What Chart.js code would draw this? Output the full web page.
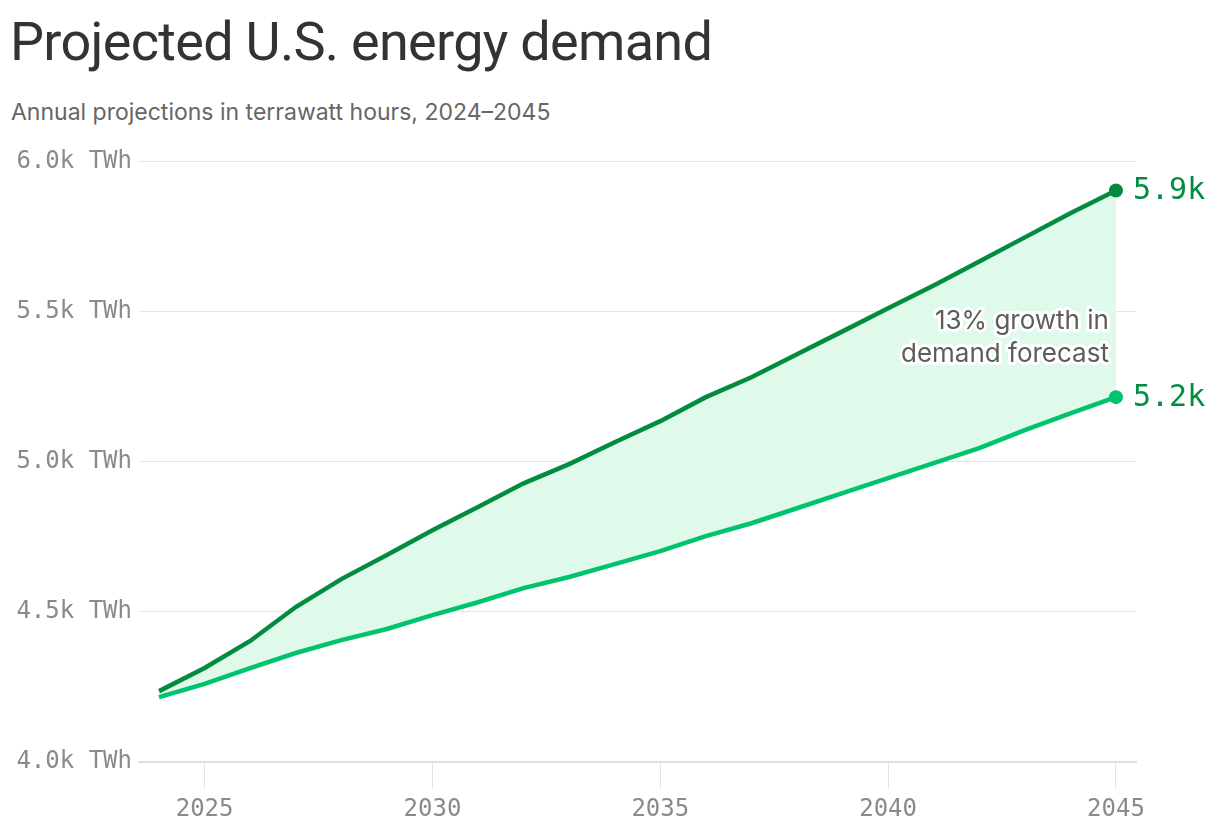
<!DOCTYPE html>
<html>
<head>
<meta charset="utf-8">
<script src="https://cdn.jsdelivr.net/npm/chart.js@4/dist/chart.umd.min.js"></script>
<style>
    html, body { margin: 0; padding: 0; background: #fff; }
    body { width: 1220px; height: 830px; position: relative; overflow: hidden; font-family: Roboto, "Noto Sans", sans-serif; }
    h1 { position: absolute; left: 10px; top: 10px; margin: 0; font-size: 54px; font-weight: 400; color: #333; letter-spacing: -0.7px; }
    .sub { position: absolute; left: 11px; top: 98px; margin: 0; font-family: Inter, Roboto, sans-serif; font-size: 23px; color: #666; }
    #wrap { position: absolute; left: 0; top: 140px; width: 1220px; height: 690px; }
</style>
</head>
<body>
<h1>Projected U.S. energy demand</h1>
<p class="sub">Annual projections in terrawatt hours, 2024–2045</p>
<div id="wrap"><canvas id="demand-chart"></canvas></div>
<script>
const years = [2024, 2025, 2026, 2027, 2028, 2029, 2030, 2031, 2032, 2033, 2034,
    2035, 2036, 2037, 2038, 2039, 2040, 2041, 2042, 2043, 2044, 2045];
// high demand forecast, TWh
const highForecast = [4236, 4313, 4403, 4516, 4609, 4689, 4772, 4849, 4928, 4992, 5065,
    5135, 5215, 5281, 5358, 5434, 5511, 5587, 5667, 5747, 5827, 5903];
// baseline forecast, TWh
const baseForecast = [4216, 4260, 4313, 4363, 4406, 4443, 4489, 4532, 4579, 4616, 4659,
    4702, 4752, 4795, 4845, 4895, 4945, 4995, 5045, 5105, 5161, 5215];
const yTicks = [4000, 4500, 5000, 5500, 6000];
const xTicks = [2025, 2030, 2035, 2040, 2045];
const endLabels = ["5.9k", "5.2k"];
const note = ["13% growth in", "demand forecast"];

(function () {
    "use strict";

    const dark = "#038c40";
    const light = "#00c46b";
    const mono = "'DejaVu Sans Mono', 'Liberation Mono', monospace";
    const last = years.length - 1;

    const endDot = (ctx) => (ctx.dataIndex === last ? 7 : 0);

    // end value labels and the growth note
    const labelsPlugin = {
        id: "labels",
        afterDatasetsDraw(chart) {
            const c = chart.ctx;
            c.save();
            c.font = "30px " + mono;
            c.fillStyle = dark;
            c.textAlign = "left";
            c.textBaseline = "middle";
            chart.data.datasets.forEach((ds, i) => {
                const pt = chart.getDatasetMeta(i).data[last];
                c.fillText(endLabels[i], pt.x + 17, pt.y + 1);
            });

            const xs = chart.scales.x;
            const ys = chart.scales.y;
            const right = xs.getPixelForValue(2045) - 7;
            c.font = "26px Inter, Roboto, sans-serif";
            c.textAlign = "right";
            c.lineJoin = "round";
            note.forEach((line, i) => {
                const y = ys.getPixelForValue(5468) + i * 33;
                c.strokeStyle = "#fff";
                c.lineWidth = 6;
                c.strokeText(line, right, y);
                c.fillStyle = "#5c5c5c";
                c.fillText(line, right, y);
            });
            c.restore();
        },
    };

    const ctx = document.getElementById("demand-chart").getContext("2d");
    new Chart(ctx, {
        type: "line",
        data: {
            datasets: [
                {
                    label: "High forecast",
                    data: years.map((y, i) => ({ x: y, y: highForecast[i] })),
                    borderColor: dark,
                    backgroundColor: "#dff9ea",
                    borderWidth: 4.5,
                    pointRadius: endDot,
                    pointBackgroundColor: dark,
                    pointBorderWidth: 0,
                    fill: "+1",
                    tension: 0,
                },
                {
                    label: "Base forecast",
                    data: years.map((y, i) => ({ x: y, y: baseForecast[i] })),
                    borderColor: light,
                    borderWidth: 4.5,
                    pointRadius: endDot,
                    pointBackgroundColor: light,
                    pointBorderWidth: 0,
                    fill: false,
                    tension: 0,
                },
            ],
        },
        options: {
            responsive: true,
            maintainAspectRatio: false,
            animation: false,
            layout: { padding: { top: 21, right: 84, left: 0, bottom: 0 } },
            plugins: {
                legend: { display: false },
                tooltip: { enabled: false },
                filler: { drawTime: "beforeDatasetsDraw" },
            },
            scales: {
                x: {
                    type: "linear",
                    min: 2023.56,
                    max: 2045.44,
                    afterBuildTicks: (scale) => {
                        scale.ticks = xTicks.map((v) => ({ value: v }));
                    },
                    afterFit: (scale) => { scale.height = 68; },
                    grid: {
                        drawOnChartArea: false,
                        color: "#e2e2e2",
                        tickLength: 26,
                    },
                    border: { color: "#dedede", width: 2 },
                    ticks: {
                        padding: 7,
                        color: "#8a8a8a",
                        font: { family: mono, size: 24 },
                        callback: (v) => String(v),
                    },
                },
                y: {
                    min: 4000,
                    max: 6000,
                    afterBuildTicks: (scale) => {
                        scale.ticks = yTicks.map((v) => ({ value: v }));
                    },
                    afterFit: (scale) => { scale.width = 139; },
                    grid: { color: "#e4e4e4", drawTicks: false },
                    border: { display: false },
                    ticks: {
                        padding: 7,
                        color: "#8a8a8a",
                        font: { family: mono, size: 24 },
                        callback: (v) => (v / 1000).toFixed(1) + "k TWh",
                    },
                },
            },
        },
        plugins: [labelsPlugin],
    });
})();
</script>
</body>
</html>
